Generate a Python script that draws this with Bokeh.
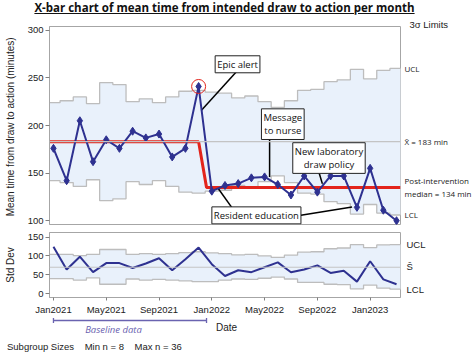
import numpy as np
from bokeh.plotting import figure
from bokeh.models import Range1d, Label, FixedTicker, Div, Span, LinearAxis
from bokeh.layouts import column
from bokeh.embed import file_html
from bokeh.resources import INLINE

# ---------------- data ----------------
title_text = "X-bar chart of mean time from intended draw to action per month"
month_names = ["Jan", "Feb", "Mar", "Apr", "May", "Jun", "Jul", "Aug", "Sep", "Oct", "Nov", "Dec"]
month_labels = [f"{m}{y}" for y in (2021, 2022, 2023) for m in month_names][:27]
tick_labels = ["Jan2021", "May2021", "Sep2021", "Jan2022", "May2022", "Sep2022", "Jan2023"]

xbar_means = [176, 142, 205, 162, 185, 176, 194, 187, 191, 167, 176, 241,
              131, 137, 139, 145, 146, 138, 127, 147, 130, 147, 147, 114, 155, 111, 100]
xbar_ucl = [224, 226, 230, 223, 245, 243, 225, 228, 224, 230, 236, 237,
            235, 234, 229, 231, 225, 219, 226, 237, 238, 246, 248, 259, 249, 258, 260]
xbar_lcl = [142, 140, 136, 143, 121, 123, 141, 138, 142, 136, 130, 129,
            131, 132, 137, 135, 141, 147, 140, 129, 128, 120, 118, 107, 117, 108, 106]
xbar_center = 183
baseline_mean = 183
post_median = 135
baseline_count = 12          # Jan2021 - Dec2021
phase_change = 11.6          # month index where the median drops

s_values = [124, 64, 98, 57, 81, 81, 68, 80, 94, 62, 91, 122,
            78, 47, 62, 57, 70, 83, 57, 64, 75, 55, 61, 32, 86, 38, 25]
s_ucl = [104, 104, 101, 104, 117, 117, 104, 106, 104, 106, 109, 111,
         108, 106, 103, 104, 100, 96, 102, 110, 111, 119, 121, 130, 122, 129, 130]
s_lcl = [40, 40, 36, 42, 25, 25, 39, 36, 38, 36, 34, 32,
         32, 36, 39, 38, 41, 44, 39, 30, 30, 25, 24, 13, 23, 15, 12]
s_center = 70

top_right_labels = ["UCL", "X\u0304 = 183 min", "Post-intervention\nmedian = 134 min", "LCL"]
bot_right_labels = ["UCL", "S\u0304", "LCL"]
subgroup_text = "Subgroup Sizes&nbsp;&nbsp;&nbsp; Min n = 8&nbsp;&nbsp;&nbsp; Max n = 36"

# annotation boxes: text, box x, box y, leader segments (x0, y0, x1, y1)
annotations = [
    ("Epic alert", 13.95, 264.3, [(13.95, 257.8, 11.2, 215.8)]),
    ("Message\nto nurse", 17.38, 201.4, [(16.38, 188.5, 16.38, 145.8)]),
    ("New laboratory\ndraw policy", 20.88, 165.8, [(20.06, 153.6, 20.38, 138.9)]),
    ("Resident education", 15.38, 105.6, [(12.5, 133.6, 13.63, 111.6),
                                          (18.75, 105.6, 22.63, 114.3)]),
]

# ---------------- styling / layout ----------------
W = 474
L, R = 49, 71
FW = W - L - R
n = len(xbar_means)
X0, X1 = -0.3, n - 1 + 0.3
NAVY = "#2E3190"
RED = "#E3241B"
BAND = "#E9F1FB"
LIM = "#BDBDBD"
FRAME = "#A6A6A6"
PURPLE = "#6A63B0"
AX_FONT = "Liberation Sans"
BOX_FONT = "Open Sans"

x = np.arange(n)
tick_pos = [month_labels.index(t) for t in tick_labels]


def steps(vals):
    xs = np.repeat(np.arange(len(vals)), 2) + np.tile([-0.5, 0.5], len(vals))
    ys = np.repeat(np.asarray(vals, dtype=float), 2)
    return xs, ys


def style_frame(p):
    p.xgrid.visible = False
    p.ygrid.visible = False
    p.outline_line_color = FRAME
    p.outline_line_width = 1
    p.background_fill_color = "white"
    p.border_fill_color = "white"


def style_yaxis(p, ticks, label):
    ax = p.yaxis[0]
    ax.ticker = FixedTicker(ticks=ticks)
    ax.axis_label = label
    ax.axis_label_text_font = AX_FONT
    ax.axis_label_text_font_size = "10px"
    ax.axis_label_text_font_style = "normal"
    ax.axis_label_text_color = "#222222"
    ax.axis_label_standoff = 9
    ax.major_label_text_font = AX_FONT
    ax.major_label_text_font_size = "9.5px"
    ax.major_label_text_color = "#222222"
    ax.major_label_standoff = 2
    ax.major_tick_out = 4
    ax.major_tick_in = 0
    ax.major_tick_line_color = "#808080"
    ax.minor_tick_line_color = None
    ax.axis_line_color = FRAME


def right_axis(p, ticks, labels, font, size, standoff):
    ax = LinearAxis(ticker=FixedTicker(ticks=ticks),
                    major_label_overrides={t: lab for t, lab in zip(ticks, labels)},
                    axis_line_color=None, major_tick_line_color=None,
                    minor_tick_line_color=None, major_tick_out=0, major_tick_in=0,
                    major_label_text_font=font, major_label_text_font_size=size,
                    major_label_text_color="#222222", major_label_standoff=standoff)
    p.add_layout(ax, "right")


# ---------------- title div ----------------
title_div = Div(
    text=(f'<div style="width:449px;height:14px;text-align:center;font-family:\'Open Sans\';'
          f'font-weight:bold;font-size:11.5px;line-height:15px;text-decoration:underline;'
          f'color:#111;white-space:nowrap;">{title_text}</div>'),
    width=W, height=14, margin=(0, 0, 0, 0))

# ---------------- X-bar chart ----------------
top = figure(width=W, height=214, x_range=Range1d(X0, X1), y_range=Range1d(96, 304),
             output_backend="svg", toolbar_location=None, x_axis_location=None,
             min_border_left=L, min_border_right=R, min_border_top=12, min_border_bottom=4)
style_frame(top)
style_yaxis(top, [100, 150, 200, 250, 300], "Mean time from draw to action  (minutes)")
top.title.text = "3σ Limits"
top.title.align = "left"
top.title.offset = FW + 6
top.title.standoff = -6
top.title.text_font = AX_FONT
top.title.text_font_size = "9.5px"
top.title.text_font_style = "normal"
top.title.text_color = "#222222"

bx, bu = steps(xbar_ucl)
_, bl = steps(xbar_lcl)
top.varea(x=bx, y1=bl, y2=bu, fill_color=BAND)
top.line(bx, bu, line_color=LIM, line_width=1.3)
top.line(bx, bl, line_color=LIM, line_width=1.3)
top.add_layout(Span(location=xbar_center, dimension="width", line_color="#C4C4C4", line_width=1.2))

last_base = baseline_count - 1
top.line([X0, last_base, phase_change, X1],
         [baseline_mean, baseline_mean, post_median, post_median],
         line_color=RED, line_width=3)

for text, ax_, ay, segs in annotations:
    for (sx0, sy0, sx1, sy1) in segs:
        top.segment(x0=[sx0], y0=[sy0], x1=[sx1], y1=[sy1], line_color="black", line_width=1.5)

top.line(x, xbar_means, line_color=NAVY, line_width=2)
top.scatter(x, xbar_means, marker="diamond", size=8, color=NAVY)
peak = int(np.argmax(xbar_means))
top.scatter([peak], [xbar_means[peak]], marker="circle", size=14,
            fill_color=None, line_color=RED, line_width=1)

for text, ax_, ay, segs in annotations:
    top.add_layout(Label(x=ax_, y=ay, text=text, text_font=BOX_FONT, text_font_size="9.5px",
                         text_align="center", text_baseline="middle", text_color="#111111",
                         background_fill_color="white", border_line_color="#222222",
                         border_line_width=1, padding=2, text_line_height=1.05))

right_axis(top, [xbar_ucl[-1], xbar_center, post_median, xbar_lcl[-1]],
           top_right_labels, BOX_FONT, "8px", 4)

# ---------------- S chart ----------------
bot = figure(width=W, height=89, x_range=top.x_range, y_range=Range1d(-10, 162),
             output_backend="svg", toolbar_location=None,
             min_border_left=L, min_border_right=R, min_border_top=4, min_border_bottom=19)
style_frame(bot)
style_yaxis(bot, [0, 50, 100, 150], "Std Dev")
xa = bot.xaxis[0]
xa.ticker = FixedTicker(ticks=tick_pos)
xa.major_label_overrides = {p: t for p, t in zip(tick_pos, tick_labels)}
xa.major_label_text_font = AX_FONT
xa.major_label_text_font_size = "9.5px"
xa.major_label_text_color = "#222222"
xa.major_label_standoff = 3
xa.major_tick_out = 3
xa.major_tick_in = 0
xa.major_tick_line_color = "#808080"
xa.minor_tick_line_color = None
xa.axis_line_color = FRAME

sx, su = steps(s_ucl)
_, sl = steps(s_lcl)
bot.varea(x=sx, y1=sl, y2=su, fill_color=BAND)
bot.line(sx, su, line_color=LIM, line_width=1.3)
bot.line(sx, sl, line_color=LIM, line_width=1.3)
bot.add_layout(Span(location=s_center, dimension="width", line_color="#C4C4C4", line_width=1.2))
bot.line(x, s_values, line_color=NAVY, line_width=2)
right_axis(bot, [s_ucl[-1], s_center + 3, s_lcl[-1]], bot_right_labels, AX_FONT, "9.5px", 6)

# ---------------- footer: baseline bracket and axis title ----------------
FH = 21
foot = figure(width=W, height=FH, x_range=top.x_range, y_range=Range1d(FH, 0),
              output_backend="svg", toolbar_location=None,
              x_axis_location=None, y_axis_location=None,
              min_border_left=L, min_border_right=R, min_border_top=0, min_border_bottom=0)
foot.xgrid.visible = False
foot.ygrid.visible = False
foot.outline_line_color = None
foot.segment(x0=[0], y0=[3], x1=[phase_change], y1=[3], line_color=PURPLE, line_width=1.3)
foot.segment(x0=[0, phase_change], y0=[0.5, 0.5], x1=[0, phase_change], y1=[5.5, 5.5],
             line_color=PURPLE, line_width=1.3)
foot.add_layout(Label(x=113 - L, y=FH - 12, x_units="screen", y_units="screen", text="Baseline data",
                      text_font=BOX_FONT, text_font_size="9.5px", text_font_style="italic",
                      text_color=PURPLE, text_align="center", text_baseline="middle"))
foot.add_layout(Label(x=FW / 2, y=FH - 10, x_units="screen", y_units="screen", text="Date",
                      text_font=AX_FONT, text_font_size="10px", text_color="#222222",
                      text_align="center", text_baseline="middle"))

sub_div = Div(
    text=(f'<div style="padding-left:7px;font-family:\'Liberation Sans\';font-size:9.5px;'
          f'line-height:12px;color:#222;white-space:nowrap;">{subgroup_text}</div>'),
    width=W, height=15, margin=(0, 0, 0, 0))

layout = column(title_div, top, bot, foot, sub_div, spacing=0)
open("out.html", "w").write(file_html(layout, INLINE))
